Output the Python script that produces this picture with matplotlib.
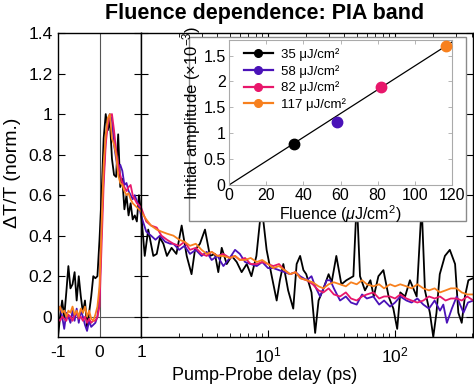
import numpy as np
import matplotlib
matplotlib.use("Agg")
import matplotlib.pyplot as plt
from matplotlib.patches import Rectangle
from matplotlib.ticker import FixedLocator, NullFormatter

plt.rcParams['font.family'] = ['Liberation Sans', 'DejaVu Sans']
plt.rcParams['mathtext.fontset'] = 'custom'
plt.rcParams['mathtext.rm'] = 'Liberation Sans'
plt.rcParams['mathtext.it'] = 'Liberation Sans:italic'

# ---------------- data ----------------
t_lin = [-1.0, -0.95, -0.9, -0.85, -0.8, -0.75, -0.7, -0.65, -0.6, -0.55, -0.5, -0.45, -0.4, -0.35,
         -0.3, -0.25, -0.2, -0.15, -0.1, -0.05, 0.0, 0.05, 0.1, 0.15, 0.2, 0.25, 0.3, 0.35, 0.4, 0.45,
         0.5, 0.55, 0.6, 0.65, 0.7, 0.75, 0.8, 0.85, 0.9, 0.95, 1.0]

black_lin = [-0.1, 0.0, 0.08, 0.0, 0.12, 0.25, 0.14, 0.16, 0.22, 0.08, 0.2, 0.1, 0.02, 0.08, -0.05,
             0.02, 0.1, 0.2, 0.19, 0.2, 0.38, 0.6, 0.88, 1.0, 0.92, 0.97, 0.78, 0.7, 0.69, 0.9, 0.64,
             0.68, 0.53, 0.6, 0.5, 0.56, 0.48, 0.5, 0.47, 0.6, 0.52]
purple_lin = [0.03, 0.05, 0.0, -0.06, 0.02, 0.0, -0.03, 0.03, -0.02, 0.04, -0.03, 0.03, 0.0, -0.04,
              -0.07, -0.02, -0.05, -0.04, -0.03, 0.0, 0.1, 0.45, 0.7, 0.88, 0.97, 1.0, 0.97, 0.85,
              0.78, 0.72, 0.75, 0.72, 0.65, 0.66, 0.62, 0.6, 0.58, 0.6, 0.57, 0.55, 0.5]
pink_lin = [-0.01, -0.02, 0.0, -0.01, -0.02, 0.01, 0.0, -0.02, 0.01, 0.02, -0.01, 0.0, -0.02, 0.0,
            -0.03, -0.01, -0.03, -0.02, -0.02, 0.0, 0.05, 0.35, 0.65, 0.85, 0.95, 0.99, 1.0, 0.92,
            0.82, 0.75, 0.7, 0.66, 0.64, 0.62, 0.64, 0.65, 0.6, 0.58, 0.56, 0.55, 0.54]
orange_lin = [0.02, 0.05, 0.02, 0.03, 0.0, 0.03, 0.02, 0.05, 0.01, 0.03, 0.0, 0.04, 0.02, 0.05, 0.0,
              0.03, -0.01, -0.02, 0.01, 0.05, 0.15, 0.45, 0.75, 0.9, 0.98, 1.0, 0.88, 0.85, 0.8, 0.7,
              0.66, 0.65, 0.62, 0.6, 0.61, 0.58, 0.56, 0.55, 0.54, 0.53, 0.52]

t_black_log = [1.07, 1.14, 1.25, 1.33, 1.41, 1.5, 1.6, 1.74, 1.9, 2.09, 2.29, 2.5, 2.66, 2.91, 3.19,
               3.49, 3.82, 4.06, 4.32, 4.73, 5.18, 5.67, 6.2, 6.8, 7.4, 8.1, 8.9, 9.75, 10.7, 11.7,
               12.4, 13.2, 14.4, 15.8, 16.8, 17.9, 19.0, 20, 22, 23.5, 25, 27, 30, 31.7, 34.5, 37.8,
               41.4, 47, 50, 53, 58, 64, 68, 74, 81, 89, 97, 104, 110, 120, 131, 148, 162, 172, 188,
               200, 212, 225, 247, 270, 297, 315, 335, 355, 378, 411]
black_log = [0.30, 0.43, 0.30, 0.31, 0.39, 0.36, 0.30, 0.34, 0.31, 0.45, 0.30, 0.21, 0.33, 0.36, 0.43,
             0.30, 0.31, 0.22, 0.34, 0.26, 0.30, 0.27, 0.22, 0.26, 0.20, 0.30, 0.55, 0.33, 0.20, 0.08,
             0.18, 0.26, 0.13, 0.04, 0.26, 0.30, 0.23, 0.21, 0.12, -0.08, 0.08, 0.13, 0.21, 0.17, 0.30,
             0.16, 0.18, 0.20, 0.58, 0.20, 0.13, 0.18, 0.10, 0.20, 0.23, 0.10, 0.04, -0.06, 0.12, 0.10,
             0.18, 0.10, 0.55, 0.13, 0.02, -0.10, 0.02, 0.21, 0.30, 0.33, 0.26, 0.02, -0.03, 0.10,
             0.18, 0.19]

t_purple_log = [1.1, 1.2, 1.3, 1.41, 1.55, 1.7, 1.8, 2.0, 2.2, 2.43, 2.7, 3.0, 3.29, 3.6, 4.0, 4.45,
                5.0, 5.5, 6.0, 6.6, 7.3, 8.15, 9.0, 10, 11, 12.2, 13.5, 14.9, 16.5, 17.9, 20.2, 22,
                23.5, 25.7, 27.3, 29, 30.9, 33, 36.9, 41, 45, 49.9, 55, 60, 67.5, 75, 82, 91.3, 100,
                110, 123, 135, 150, 167, 185, 205, 226, 240, 256, 280, 306, 325, 346, 375, 414]
purple_log = [0.42, 0.40, 0.38, 0.40, 0.37, 0.36, 0.36, 0.33, 0.35, 0.31, 0.33, 0.30, 0.32, 0.28,
              0.30, 0.25, 0.29, 0.33, 0.31, 0.27, 0.26, 0.25, 0.27, 0.24, 0.24, 0.23, 0.22, 0.21,
              0.22, 0.20, 0.18, 0.20, 0.15, 0.10, 0.14, 0.18, 0.18, 0.14, 0.08, 0.10, 0.07, 0.06,
              0.11, 0.09, 0.10, 0.06, 0.08, 0.05, 0.07, 0.10, 0.08, 0.07, 0.09, 0.06, 0.04, 0.08,
              0.03, 0.06, -0.03, 0.04, 0.10, 0.06, 0.02, 0.07, 0.08]

t_po_log = [1.1, 1.2, 1.33, 1.45, 1.6, 1.8, 2.0, 2.2, 2.43, 2.7, 3.0, 3.29, 3.6, 4.0, 4.45, 5.0, 5.5,
            6.0, 6.6, 7.3, 8.15, 9.0, 10, 11, 12.2, 13.5, 14.9, 16.5, 18, 20.2, 22.5, 25, 27.3, 30,
            33, 36.9, 41, 45, 49.9, 55, 60, 67.5, 75, 82, 91.3, 100, 110, 123, 135, 150, 167, 185,
            205, 226, 250, 275, 306, 335, 370, 414]
pink_log = [0.47, 0.45, 0.44, 0.40, 0.38, 0.36, 0.35, 0.37, 0.33, 0.34, 0.31, 0.30, 0.32, 0.30,
            0.31, 0.29, 0.30, 0.28, 0.29, 0.26, 0.26, 0.27, 0.26, 0.25, 0.26, 0.23, 0.21, 0.22,
            0.19, 0.18, 0.16, 0.13, 0.12, 0.14, 0.11, 0.10, 0.12, 0.09, 0.08, 0.10, 0.11, 0.12,
            0.09, 0.10, 0.10, 0.09, 0.11, 0.09, 0.08, 0.07, 0.08, 0.10, 0.09, 0.10, 0.08, 0.09,
            0.09, 0.08, 0.10, 0.08]
orange_log = [0.48, 0.45, 0.43, 0.42, 0.41, 0.40, 0.38, 0.37, 0.35, 0.36, 0.33, 0.31, 0.32, 0.30,
              0.30, 0.29, 0.30, 0.28, 0.28, 0.29, 0.27, 0.28, 0.26, 0.24, 0.25, 0.23, 0.21, 0.22,
              0.19, 0.18, 0.17, 0.15, 0.14, 0.16, 0.17, 0.16, 0.15, 0.17, 0.16, 0.18, 0.16, 0.15,
              0.16, 0.14, 0.16, 0.15, 0.16, 0.15, 0.14, 0.16, 0.14, 0.13, 0.14, 0.12, 0.13, 0.14,
              0.14, 0.12, 0.11, 0.11]

# inset data
fluence = [35, 58, 82, 117]
amplitude = [0.80, 1.22, 1.90, 2.68]
fit_x = [0, 120]
fit_y = [0, 2.76]
labels = ['35 μJ/cm²', '58 μJ/cm²', '82 μJ/cm²', '117 μJ/cm²']
colors = ['#000000', '#4a12b8', '#e8176b', '#f7801e']

series = [
    (t_lin + t_black_log, black_lin + black_log),
    (t_lin + t_purple_log, purple_lin + purple_log),
    (t_lin + t_po_log, pink_lin + pink_log),
    (t_lin + t_po_log, orange_lin + orange_log),
]

# ---------------- figure ----------------
W, H = 474, 391
fig = plt.figure(figsize=(W / 100, H / 100), dpi=100)

def fx(px):
    return px / W

def fy(py):
    return 1 - py / H

left, mid, right = 58, 141, 473
top, bottom = 33, 337
ax1 = fig.add_axes([fx(left), fy(bottom), fx(mid - left), fy(top) - fy(bottom)])
ax2 = fig.add_axes([fx(mid), fy(bottom), fx(right - mid), fy(top) - fy(bottom)], sharey=ax1)

lw = 1.3
for (t, y), c in zip(series, colors):
    t = np.array(t)
    y = np.array(y)
    ax1.plot(t, y, color=c, lw=lw)
    m = t > 0.5
    ax2.plot(t[m], y[m], color=c, lw=lw)

ax1.set_xlim(-1, 1)
ax1.set_ylim(-0.1, 1.4)
ax2.set_xscale('log')
ax2.set_xlim(1, 411)

ax1.axvline(0, color='#555555', lw=0.8, zorder=0)
ax1.axhline(0, color='#555555', lw=0.8, zorder=0)
ax2.axhline(0, color='#555555', lw=0.8, zorder=0)

tick_fs = 12.5
ax1.set_yticks([0, 0.2, 0.4, 0.6, 0.8, 1, 1.2, 1.4])
ax1.set_yticklabels(['0', '0.2', '0.4', '0.6', '0.8', '1', '1.2', '1.4'])
ax1.set_xticks([-1, 0, 1])
ax1.set_xticklabels(['-1', '0', '1'])
ax1.tick_params(axis='both', direction='in', labelsize=tick_fs, top=False, bottom=False,
                right=True, left=True, length=5, width=0.8, pad=6)
ax1.tick_params(axis='y', pad=4)

ax2.set_xticks([10, 100])
ax2.set_xticklabels(['10$^1$', '10$^2$'])
ax2.xaxis.set_minor_locator(FixedLocator([2, 3, 4, 5, 6, 7, 8, 9, 20, 30, 40, 50, 60, 70, 80, 90,
                                          200, 300, 400]))
ax2.xaxis.set_minor_formatter(NullFormatter())
ax2.tick_params(axis='x', which='major', direction='in', top=True, bottom=True, length=5,
                width=0.8, labelsize=tick_fs, pad=6)
ax2.tick_params(axis='x', which='minor', direction='in', top=True, bottom=True, length=3, width=0.6)
ax2.tick_params(axis='y', direction='in', left=True, right=True, labelleft=False, length=5, width=0.8)

for ax in (ax1, ax2):
    for s in ax.spines.values():
        s.set_linewidth(1.0)

fig.text(fx(265), fy(14), 'Fluence dependence: PIA band', ha='center', va='center',
         fontsize=15.5, fontweight='bold')
fig.text(fx(265), fy(376), 'Pump-Probe delay (ps)', ha='center', va='center', fontsize=13)
fig.text(fx(13), fy(173), 'ΔT/T (norm.)', ha='center', va='center', rotation=90, fontsize=14)

# inset frame
box = Rectangle((fx(189), fy(221)), fx(466 - 189), fy(37) - fy(221), transform=fig.transFigure,
                facecolor='white', edgecolor='#8a8a8a', lw=1.0, zorder=5)
fig.add_artist(box)

axi = fig.add_axes([fx(229), fy(185), fx(452 - 229), fy(40) - fy(185)], zorder=6)
axi.plot(fit_x, fit_y, color='black', lw=0.9, zorder=2)
for f, a, c, lab in zip(fluence, amplitude, colors, labels):
    axi.plot([f], [a], 'o', color=c, ms=7.5, zorder=3)
    axi.plot([], [], '-o', color=c, ms=5.5, lw=1.6, label=lab)
axi.set_xlim(0, 120)
axi.set_ylim(0, 2.8)
axi.set_xticks([0, 20, 40, 60, 80, 100, 120])
axi.set_yticks([0, 0.5, 1, 1.5, 2, 2.5])
axi.set_yticklabels(['0', '0.5', '1', '1.5', '2', '1.5'])
axi.tick_params(direction='in', length=3, width=0.6, color='#aaaaaa', labelsize=11.5, pad=2.5,
                top=True, right=True)
axi.tick_params(axis='x', pad=2)
for s in axi.spines.values():
    s.set_color('#aaaaaa')
    s.set_linewidth(0.8)
axi.set_xlabel('Fluence ($\\mathit{\\mu}$J/cm$^2$)', fontsize=11.5, labelpad=0.5)
axi.set_ylabel('Initial amplitude ($\\times$10$^{-3}$)', fontsize=12, labelpad=0)
axi.legend(loc='upper left', bbox_to_anchor=(0.03, 1.0), frameon=False, fontsize=9.5,
           handlelength=2.2, labelspacing=0.3, handletextpad=0.6, borderaxespad=0.2)

fig.savefig('out.png', dpi=100)
